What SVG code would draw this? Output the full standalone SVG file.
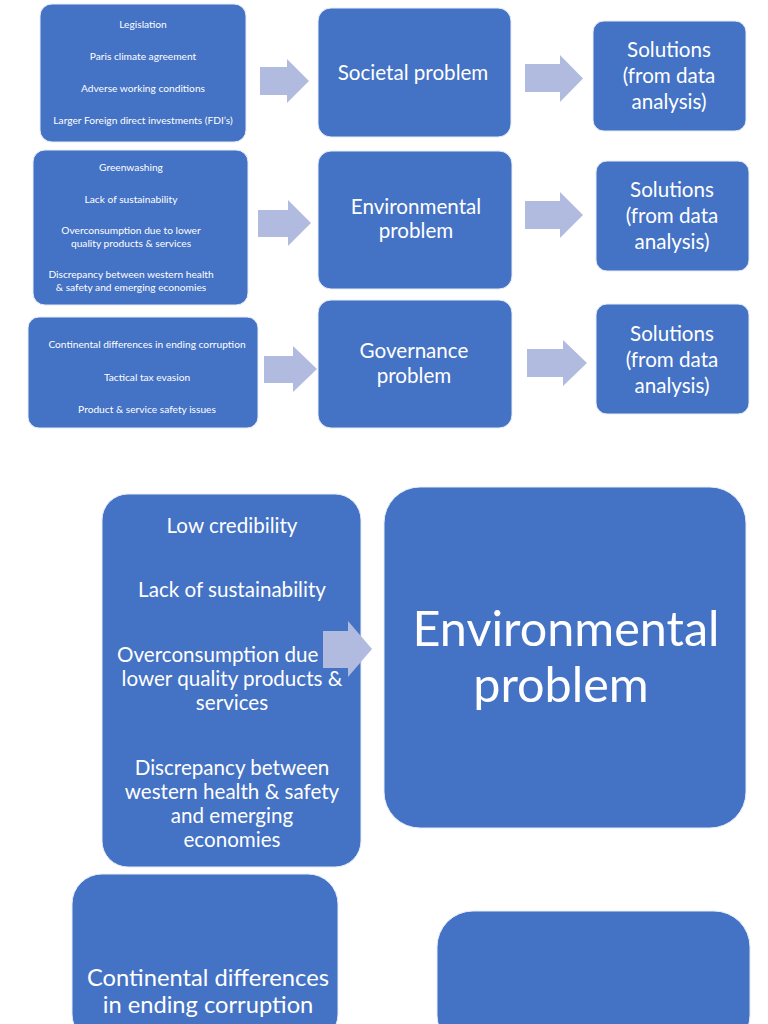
<svg xmlns="http://www.w3.org/2000/svg" width="768" height="1024" viewBox="0 0 768 1024">
<style>
.box{fill:#4472C4;stroke:#E6ECF7;stroke-width:1}
.arr{fill:#B1BBDF}
text{font-family:Lato,"Noto Sans",sans-serif;fill:#FFFFFF;text-anchor:middle}
.s{font-size:10.2px}
.m{font-size:20.6px}
.d{font-size:20.6px}
.b{font-size:48.5px}
.e{font-size:23.7px}
</style>
<rect width="768" height="1024" fill="#FFFFFF"/>
<g id="societal-causes">
<rect class="box" x="40" y="4" width="206" height="138" rx="12"/>
<text class="s" x="143" y="28">Legislation</text>
<text class="s" x="143" y="60">Paris climate agreement</text>
<text class="s" x="143" y="92">Adverse working conditions</text>
<text class="s" x="143" y="124">Larger Foreign direct investments (FDI’s)</text>
</g>
<g id="societal-problem">
<rect class="box" x="318" y="8" width="193" height="129" rx="13"/>
<text class="m" x="413" y="80">Societal problem</text>
</g>
<g id="solutions-1">
<rect class="box" x="593" y="21" width="153" height="110" rx="11"/>
<text class="m" x="669" y="57">Solutions</text>
<text class="m" x="669" y="83">(from data</text>
<text class="m" x="669" y="109">analysis)</text>
</g>
<g id="environmental-causes">
<rect class="box" x="33" y="150" width="215" height="155" rx="12"/>
<text class="s" x="131" y="171">Greenwashing</text>
<text class="s" x="131" y="203">Lack of sustainability</text>
<text class="s" x="131" y="234">Overconsumption due to lower</text>
<text class="s" x="131" y="247">quality products &amp; services</text>
<text class="s" x="131" y="278">Discrepancy between western health</text>
<text class="s" x="131" y="291">&amp; safety and emerging economies</text>
</g>
<g id="environmental-problem">
<rect class="box" x="318" y="151" width="194" height="138" rx="13"/>
<text class="m" x="416" y="214">Environmental</text>
<text class="m" x="416" y="238">problem</text>
</g>
<g id="solutions-2">
<rect class="box" x="596" y="161" width="153" height="110" rx="11"/>
<text class="m" x="672" y="197">Solutions</text>
<text class="m" x="672" y="223">(from data</text>
<text class="m" x="672" y="249">analysis)</text>
</g>
<g id="governance-causes">
<rect class="box" x="28" y="317" width="230" height="111" rx="11"/>
<text class="s" x="147" y="348">Continental differences in ending corruption</text>
<text class="s" x="147" y="381">Tactical tax evasion</text>
<text class="s" x="147" y="413">Product &amp; service safety issues</text>
</g>
<g id="governance-problem">
<rect class="box" x="318" y="300" width="194" height="128" rx="13"/>
<text class="m" x="414" y="358">Governance</text>
<text class="m" x="414" y="383">problem</text>
</g>
<g id="solutions-3">
<rect class="box" x="596" y="304" width="153" height="110" rx="11"/>
<text class="m" x="672" y="341">Solutions</text>
<text class="m" x="672" y="367">(from data</text>
<text class="m" x="672" y="393">analysis)</text>
</g>
<g id="env-causes-large">
<rect class="box" x="102" y="494" width="259" height="373" rx="26"/>
<text class="d" x="232" y="533">Low credibility</text>
<text class="d" x="232" y="597">Lack of sustainability</text>
<text class="d" x="117" y="662" style="text-anchor:start">Overconsumption due</text>
<text class="d" x="232" y="686">lower quality products &amp;</text>
<text class="d" x="232" y="710">services</text>
<text class="d" x="232" y="775">Discrepancy between</text>
<text class="d" x="232" y="799">western health &amp; safety</text>
<text class="d" x="232" y="823">and emerging</text>
<text class="d" x="232" y="847">economies</text>
</g>
<g id="env-problem-large">
<rect class="box" x="384" y="487" width="362" height="341" rx="36"/>
<text class="b" x="566" y="646">Environmental</text>
<text class="b" x="561" y="702">problem</text>
</g>
<g id="gov-cause-large">
<rect class="box" x="72" y="874" width="266" height="170" rx="30"/>
<text class="e" x="208" y="986">Continental differences</text>
<text class="e" x="208" y="1013">in ending corruption</text>
</g>
<g id="gov-problem-large">
<rect class="box" x="437" y="911" width="313" height="140" rx="36"/>
</g>
<g id="connectors">
<polygon class="arr" points="260,67 287,67 287,59 309,81 287,103 287,95 260,95"/>
<polygon class="arr" points="525,64 560,64 560,55 583,78.5 560,102 560,92 525,92"/>
<polygon class="arr" points="258,210 288,210 288,200 311,223 288,246 288,237 258,237"/>
<polygon class="arr" points="525,201 560,201 560,192 583,215 560,238 560,229 525,229"/>
<polygon class="arr" points="264,356 293,356 293,346 317,369 293,392 293,383 264,383"/>
<polygon class="arr" points="527,349 563,349 563,340 587,363 563,386 563,377 527,377"/>
<polygon class="arr" points="323,631 348,631 348,621 372,649 348,677 348,668 323,668"/>
</g>
</svg>
